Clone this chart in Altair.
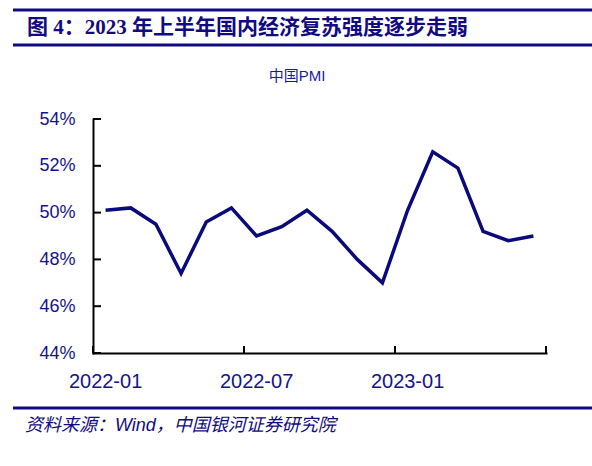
import altair as alt
import pandas as pd

months = ["2022-01", "2022-02", "2022-03", "2022-04", "2022-05", "2022-06",
          "2022-07", "2022-08", "2022-09", "2022-10", "2022-11", "2022-12",
          "2023-01", "2023-02", "2023-03", "2023-04", "2023-05", "2023-06"]
pmi = [50.1, 50.2, 49.5, 47.4, 49.6, 50.2, 49.0, 49.4, 50.1, 49.2, 48.0, 47.0,
       50.1, 52.6, 51.9, 49.2, 48.8, 49.0]
y_ticks = [44, 46, 48, 50, 52, 54]
x_label_months = ["2022-01", "2022-07", "2023-01"]
title_text = "图 4：2023 年上半年国内经济复苏强度逐步走弱"
subtitle_text = "中国PMI"
source_text = "资料来源：Wind，中国银河证券研究院"

NAVY = "#120a80"
LINE = "#0a0a7c"
LABEL = "#14148a"
W, H = 453, 234

df = pd.DataFrame({"month": months, "pmi": pmi})

xscale = alt.Scale(type="band", domain=months, paddingInner=0, paddingOuter=0)
yscale = alt.Scale(domain=[44, 54], nice=False, zero=False)

x_axis = alt.Axis(values=x_label_months, labelAngle=0, ticks=False, tickSize=0,
                  domainColor="black", domainWidth=2, domainCap="square",
                  labelFont="Liberation Sans", labelFontSize=20,
                  labelColor=LABEL, labelPadding=18, title=None, grid=False)
y_axis = alt.Axis(values=y_ticks, labelExpr="datum.value + '%'", ticks=False,
                  tickSize=0, domainColor="black", domainWidth=2, domainCap="square",
                  labelFont="Liberation Sans", labelFontSize=18,
                  labelColor=LABEL, labelPadding=18, title=None, grid=False)

line = alt.Chart(df).mark_line(color=LINE, strokeWidth=3.5).encode(
    x=alt.X("month:N", scale=xscale, sort=None, axis=x_axis),
    y=alt.Y("pmi:Q", scale=yscale, axis=y_axis),
)

yticks = alt.Chart(pd.DataFrame({"pmi": y_ticks})).mark_rule(color="black", strokeWidth=2).encode(
    y=alt.Y("pmi:Q", scale=yscale, axis=y_axis),
    x=alt.value(0), x2=alt.value(8),
)

xticks = alt.Chart(pd.DataFrame({"month": x_label_months})).mark_rule(color="black", strokeWidth=2).encode(
    x=alt.X("month:N", scale=xscale, sort=None, bandPosition=0, axis=x_axis),
    y=alt.value(H), y2=alt.value(H - 7),
)

xend = alt.Chart(pd.DataFrame({"month": [months[-1]]})).mark_rule(color="black", strokeWidth=2).encode(
    x=alt.X("month:N", scale=xscale, sort=None, bandPosition=1, axis=x_axis),
    y=alt.value(H), y2=alt.value(H - 7),
)


def hline(y):
    return alt.Chart(alt.Data(values=[{}])).mark_rule(color=NAVY, strokeWidth=3).encode(
        x=alt.value(-80), x2=alt.value(499), y=alt.value(y))


def text_layer(txt, x, y, **kw):
    return alt.Chart(alt.Data(values=[{"t": txt}])).mark_text(**kw).encode(
        text="t:N", x=alt.value(x), y=alt.value(y))


title = text_layer(title_text, -66, -91, align="left", baseline="middle",
                   font="Liberation Serif, Noto Sans CJK SC", fontSize=21,
                   fontWeight="bold", color=NAVY)
subtitle = text_layer(subtitle_text, 204, -43, align="center", baseline="middle",
                      font="Liberation Sans, Noto Sans CJK SC", fontSize=15, color="#1a1a9c")
source = text_layer(source_text, -68, 307, align="left", baseline="middle",
                    font="Liberation Sans, Noto Sans CJK SC", fontSize=18,
                    fontStyle="italic", color=NAVY)

chart = alt.layer(
    line, yticks, xticks, xend,
    hline(-109), hline(-74), hline(289),
    title, subtitle, source,
).properties(
    width=W, height=H,
    padding={"left": 93, "top": 119, "right": 46, "bottom": 113},
    autosize=alt.AutoSizeParams(type="none"),
).configure_view(stroke=None)

chart.save("out.html", embed_options={"renderer": "svg", "actions": False})
